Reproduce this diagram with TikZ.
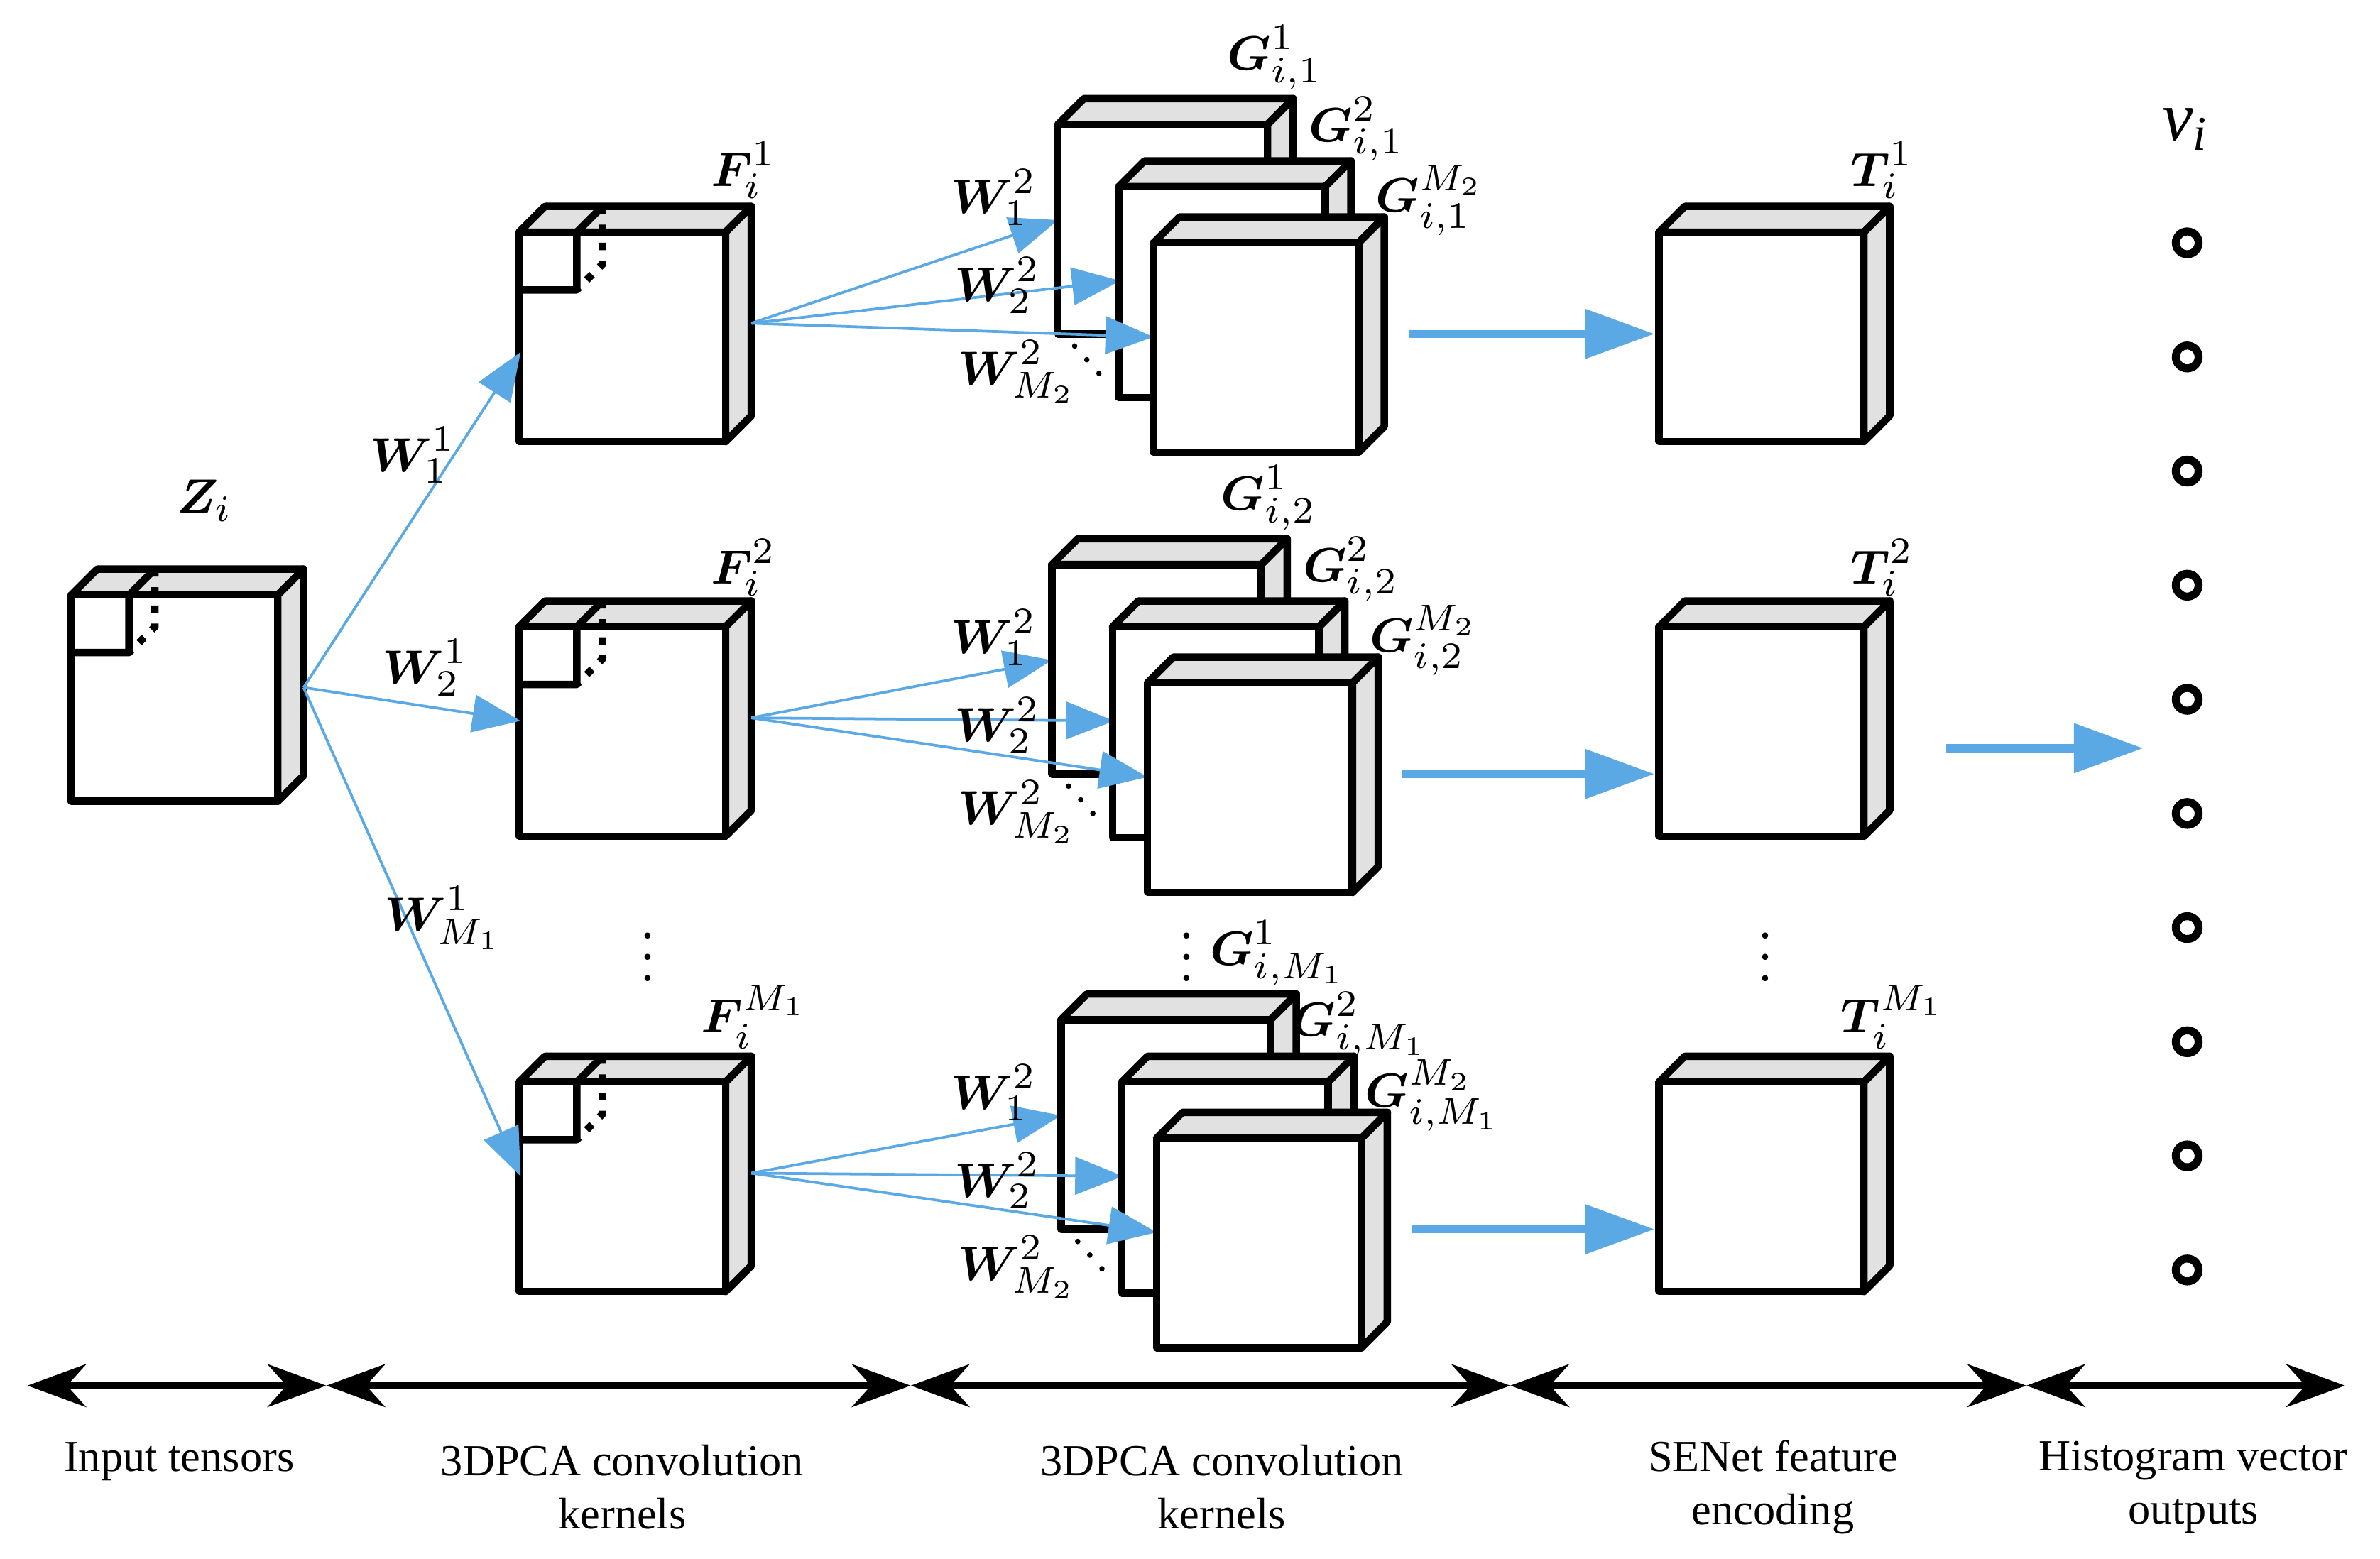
\documentclass[tikz,border=0pt]{standalone}
\usepackage{fontspec}
\setmainfont{Liberation Serif}
\usepackage{amsmath}
\usepackage{bm}
\usetikzlibrary{arrows.meta}

\definecolor{arrowblue}{RGB}{90,168,228}
\definecolor{faceg}{RGB}{225,225,225}

\tikzset{
  box/.style={line width=1.4pt, line join=round},
  side/.style={box, fill=faceg},
  flow/.style={arrowblue, line width=0.5pt, -{Triangle[length=9pt,width=7pt]}},
  bigflow/.style={arrowblue, line width=1.5pt, -{Triangle[length=13pt,width=9pt]}},
  span/.style={line width=1.4pt, {Stealth[length=11pt,width=8pt]}-{Stealth[length=11pt,width=8pt]}},
  lbl/.style={font=\fontsize{9.5}{11}\selectfont, inner sep=1pt},
  stagecap/.style={font=\fontsize{8.3}{10}\selectfont, align=center},
  outdot/.style={circle, draw, line width=1.5pt, minimum size=0.15cm, inner sep=0pt}
}

% box with front face (#1,#2)-(#3,#4), depth 17
\newcommand{\slab}[4]{%
  \draw[side] (#1,#2) -- ++(17,-17) -- (#3+17,#2-17) -- (#3,#2) -- cycle;
  \draw[side] (#3,#2) -- (#3+17,#2-17) -- (#3+17,#4-17) -- (#3,#4) -- cycle;
  \draw[box, fill=white] (#1,#2) rectangle (#3,#4);
}
% box with the small kernel in its corner
\newcommand{\kbox}[4]{%
  \slab{#1}{#2}{#3}{#4}
  \draw[box] (#1,#2+38) -- (#1+38,#2+38) -- (#1+38,#2) -- ++(17,-17);
  \draw[line width=1.4pt, dotted] (#1+55,#2-17) -- (#1+55,#2+21) -- (#1+38,#2+38);
}

\begin{document}
\begin{tikzpicture}[x=0.01cm, y=-0.01cm]
\useasboundingbox (0,0) rectangle (1568,1027);

% Input tensor
\kbox{47}{392}{183}{528}
\node[lbl] (zl) at (135,330) {$\bm{Z}_i$};
\coordinate (z) at (200,453);

% First stage
\kbox{342}{153}{478}{291}
\kbox{342}{413}{478}{551}
\kbox{342}{713}{478}{851}
\node[lbl] (f1l) at (490,112) {$\bm{F}_i^{1}$};
\node[lbl] (f2l) at (490,374) {$\bm{F}_i^{2}$};
\node[lbl] (f3l) at (497,670) {$\bm{F}_i^{M_1}$};
\coordinate (f1in) at (343,232);
\coordinate (f2in) at (343,475);
\coordinate (f3in) at (343,775);
\draw[flow] (z) -- (f1in);
\draw[flow] (z) -- (f2in);
\draw[flow] (z) -- (f3in);
\node[lbl] (w11) at (272,300) {$\bm{W}_1^{1}$};
\node[lbl] (w21) at (280,440) {$\bm{W}_2^{1}$};
\node[lbl] (w31) at (292,605) {$\bm{W}_{M_1}^{1}$};

% Second stage and encoding, one row each
\foreach \dy/\fy/\r/\gx in {0/0/1/0, 290/260/2/-4, 590/560/M_1/2} {
  \begin{scope}[yshift=-\dy*0.01cm]
    \coordinate (fo) at (495,213-\dy+\fy);
    \coordinate (g1in) at (697+\gx,145);
    \coordinate (g2in) at (738+\gx,185);
    \coordinate (g3in) at (760+\gx,222);
    \draw[flow] (fo) -- (g1in);
    \slab{697+\gx}{82}{835+\gx}{220}
    \draw[flow] (fo) -- (g2in);
    \slab{737+\gx}{123}{873+\gx}{262}
    \draw[flow] (fo) -- (g3in);
    \slab{760+\gx}{160}{895+\gx}{298}
    \fill (708+\gx,228) circle (1.8) (716+\gx,237) circle (1.8) (724+\gx,246) circle (1.8);
    \node[lbl] (w1) at (655,130) {$\bm{W}_1^{2}$};
    \node[lbl] (w2) at (657,188) {$\bm{W}_2^{2}$};
    \node[lbl] (w3) at (670,245) {$\bm{W}_{M_2}^{2}$};
    \node[lbl] (g1l) at (840+\gx,38) {$\bm{G}_{i,\r}^{1}$};
    \node[lbl] (g2l) at (894+\gx,85) {$\bm{G}_{i,\r}^{2}$};
    \node[lbl] (g3l) at (942+\gx,132) {$\bm{G}_{i,\r}^{M_2}$};
    \coordinate (go) at (928+\gx,220);
    \coordinate (tin) at (1090,220);
    \draw[bigflow] (go) -- (tin);
    \slab{1093}{153-\dy+\fy}{1228}{291-\dy+\fy}
  \end{scope}
}

% Encoded features
\node[lbl] (t1l) at (1240,112) {$\bm{T}_i^{1}$};
\node[lbl] (t2l) at (1240,374) {$\bm{T}_i^{2}$};
\node[lbl] (t3l) at (1247,670) {$\bm{T}_i^{M_1}$};

% Vertical dots
\foreach \x in {427,782,1163}
  \node[lbl] (vd\x) at (\x,620) {$\vdots$};

% Output vector
\coordinate (ho) at (1282,493);
\coordinate (hi) at (1412,493);
\draw[bigflow] (ho) -- (hi);
\node[font=\fontsize{13}{15}\selectfont] (v) at (1440,85) {\textit{v\textsubscript{i}}};
\foreach \k in {0,...,9}
  \node[outdot] (o\k) at (1441,160+75.2*\k) {};

% Bottom spans
\foreach \a/\b in {18/215, 215/600, 600/995, 995/1335, 1335/1545} {
  \coordinate (s\a) at (\a,913);
  \coordinate (e\b) at (\b,913);
  \draw[span] (s\a) -- (e\b);
}
\node[stagecap] (c1) at (118,963) {Input tensors};
\node[stagecap] (c2) at (410,980) {3DPCA convolution\\kernels};
\node[stagecap] (c3) at (805,980) {3DPCA convolution\\kernels};
\node[stagecap] (c4) at (1168,980) {SENet feature\\encoding};
\node[stagecap] (c5) at (1445,980) {Histogram vector\\outputs};
\end{tikzpicture}
\end{document}
